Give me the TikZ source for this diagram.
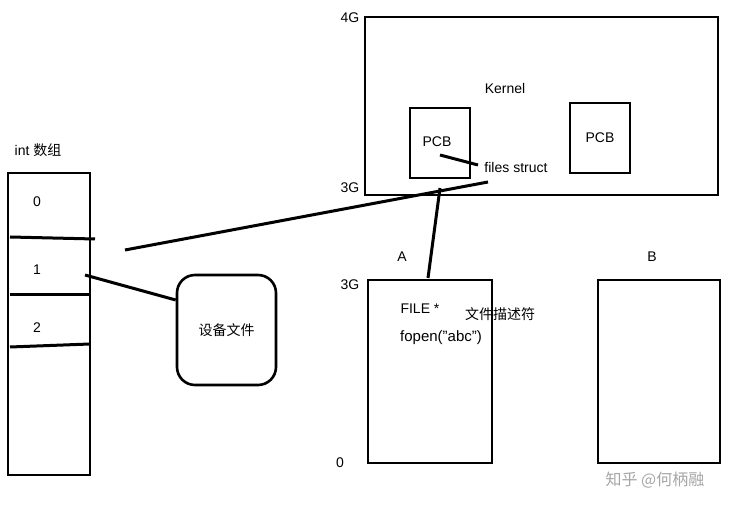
\documentclass[tikz,border=0pt]{standalone}
\usepackage{fontspec}
\setmainfont{Liberation Sans}
\newfontfamily\cjk{Noto Sans CJK SC}
\begin{document}
\begin{tikzpicture}[x=1pt,y=-1pt,
  box/.style={draw,line width=2.6pt},
  ln/.style={line width=3pt},
  lb/.style={font=\fontsize{14}{16}\selectfont}]
\useasboundingbox[fill=white] (0,0) rectangle (742,510);
% kernel
\node[box,minimum width=353pt,minimum height=178pt,inner sep=0pt] (kernel) at (541.5,106) {};
\node[lb] (k4g) at (350,18) {4G};
\node[lb] (k3g) at (350,188) {3G};
\node[lb] (klabel) at (505,88) {Kernel};
\node[box,minimum width=60pt,minimum height=70pt,inner sep=0pt] (pcb1) at (440,143) {};
\node[lb] at (437,142) {PCB};
\node[box,minimum width=60pt,minimum height=70pt,inner sep=0pt,lb] (pcb2) at (600,138) {PCB};
\node[lb] (fs) at (516,167) {files struct};
\coordinate (p1) at (440,155);
\coordinate (p2) at (478,165);
\draw[ln] (p1) -- (p2);
% array
\node[box,minimum width=82pt,minimum height=302pt,inner sep=0pt] (arr) at (49,324) {};
\node[lb] (arrlabel) at (38,150) {int {\cjk 数组}};
\coordinate (d1a) at (10,237); \coordinate (d1b) at (95,239);
\coordinate (d2a) at (10,295); \coordinate (d2b) at (90,295);
\coordinate (d3a) at (10,347); \coordinate (d3b) at (90,344);
\draw[ln] (d1a)--(d1b); \draw[ln] (d2a)--(d2b); \draw[ln] (d3a)--(d3b);
\node[lb] (a0) at (37,202) {0};
\node[lb] (a1) at (37,270) {1};
\node[lb] (a2) at (37,328) {2};
% device file
\node[box,rounded corners=18pt,minimum width=99pt,minimum height=110pt,inner sep=0pt,lb] (dev) at (226.5,330) {\cjk 设备文件};
\coordinate (c1) at (125,250); \coordinate (c2) at (488,182);
\draw[ln] (c1) -- (c2);
\coordinate (e1) at (85,275);
\draw[ln] (e1) -- (dev.west |- 0,300) ;
% A and B
\node[box,minimum width=124pt,minimum height=183pt,inner sep=0pt] (A) at (430,371.5) {};
\node[box,minimum width=122pt,minimum height=183pt,inner sep=0pt] (B) at (659,371.5) {};
\node[lb] (Alabel) at (402,257) {A};
\node[lb] (Blabel) at (652,257) {B};
\node[lb] (a3g) at (350,285) {3G};
\node[lb] (a0g) at (340,463) {0};
\node[lb] (file) at (420,309) {FILE *};
\node[lb] (fd) at (500,314) {\cjk 文件描述符};
\node[font=\fontsize{15}{17}\selectfont] (fopen) at (441,338) {fopen(\symbol{34}abc\symbol{34})};
\coordinate (f1) at (428,278); \coordinate (f2) at (440,188);
\draw[ln] (f1) -- (f2);
\node[text=gray!70,font=\fontsize{16}{18}\selectfont\cjk] (wm) at (655,480) {知乎 @何柄融};
\end{tikzpicture}
\end{document}
